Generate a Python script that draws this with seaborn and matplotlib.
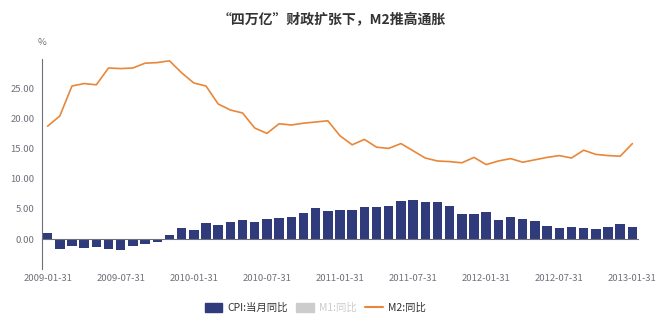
import matplotlib
matplotlib.use("Agg")
import matplotlib.pyplot as plt
import seaborn as sns
import pandas as pd
from matplotlib.patches import Patch
from matplotlib.lines import Line2D

# Monthly observations, Jan 2009 - Jan 2013
months = pd.date_range("2009-01-31", periods=49, freq="ME").strftime("%Y-%m-%d").tolist()

cpi_yoy = [
    1.0, -1.6, -1.2, -1.5, -1.4, -1.7, -1.8, -1.2, -0.8, -0.5, 0.6, 1.9,
    1.5, 2.7, 2.4, 2.8, 3.1, 2.9, 3.3, 3.5, 3.6, 4.4, 5.1, 4.6,
    4.9, 4.9, 5.4, 5.3, 5.5, 6.4, 6.5, 6.2, 6.1, 5.5, 4.2, 4.1,
    4.5, 3.2, 3.6, 3.4, 3.0, 2.2, 1.8, 2.0, 1.9, 1.7, 2.0, 2.5,
    2.0,
]
m2_yoy = [
    18.8, 20.5, 25.5, 25.9, 25.7, 28.5, 28.4, 28.5, 29.3, 29.4, 29.7, 27.7,
    26.0, 25.5, 22.5, 21.5, 21.0, 18.5, 17.6, 19.2, 19.0, 19.3, 19.5, 19.7,
    17.2, 15.7, 16.6, 15.3, 15.1, 15.9, 14.7, 13.5, 13.0, 12.9, 12.7, 13.6,
    12.4, 13.0, 13.4, 12.8, 13.2, 13.6, 13.9, 13.5, 14.8, 14.1, 13.9, 13.8,
    15.9,
]
y_ticks = [0, 5, 10, 15, 20, 25]
x_label_step = 6

title = "“四万亿”财政扩张下，M2推高通胀"
legend_labels = ["CPI:当月同比", "M1:同比", "M2:同比"]

BAR = "#2f3b7b"
LINE = "#e8873a"
MUTED = "#cccccc"
AXIS = "#6e7079"

sns.set_theme(style="white")
plt.rcParams["font.family"] = ["Noto Sans CJK SC", "DejaVu Sans"]
plt.rcParams["axes.unicode_minus"] = False

df = pd.DataFrame({"idx": range(len(months)), "month": months,
                   "cpi": cpi_yoy, "m2": m2_yoy})

fig = plt.figure(figsize=(6.6, 3.25), dpi=100)
ax = fig.add_axes([0.0629, 0.1723, 0.9045, 0.6462])

sns.barplot(data=df, x="idx", y="cpi", native_scale=True, color=BAR,
            saturation=1, width=0.78, linewidth=0, ax=ax)
sns.lineplot(data=df, x="idx", y="m2", color=LINE, linewidth=1.2, ax=ax)

ax.set_xlim(-0.5, len(months) - 0.5)
ax.set_ylim(-5, 30)
ax.set_xlabel("")
ax.set_ylabel("")

tick_pos = list(range(0, len(months), x_label_step))
ax.set_xticks(tick_pos)
ax.set_xticklabels([months[i] for i in tick_pos])
ax.set_yticks(y_ticks)
ax.set_yticklabels([f"{v:.2f}" for v in y_ticks])

for side in ("top", "right"):
    ax.spines[side].set_visible(False)
ax.spines["bottom"].set_position(("data", 0))
for side in ("left", "bottom"):
    ax.spines[side].set_color(AXIS)
    ax.spines[side].set_linewidth(0.8)

ax.tick_params(axis="x", length=3, width=0.8, color=AXIS, labelcolor=AXIS,
               labelsize=6.8, pad=22, direction="out")
ax.tick_params(axis="y", length=3, width=0.8, color=AXIS, labelcolor=AXIS,
               labelsize=6.8, pad=2, direction="out")
ax.grid(False)

fig.text(0.0629, 0.870, "%", fontsize=6.8, color=AXIS, ha="center", va="center")
fig.text(0.502, 0.937, title, fontsize=10, fontweight="bold", color="#333333",
         ha="center", va="center")

handles = [
    Patch(facecolor=BAR, edgecolor=BAR),
    Patch(facecolor=MUTED, edgecolor=MUTED),
    Line2D([0], [0], color=LINE, linewidth=1.5),
]
leg = fig.legend(handles, legend_labels, loc="center", ncol=3,
                 bbox_to_anchor=(0.478, 0.052), frameon=False, fontsize=7.5,
                 handlelength=1.7, handleheight=0.9, handletextpad=0.5,
                 columnspacing=0.8)
for text, col in zip(leg.get_texts(), ["#333333", MUTED, "#333333"]):
    text.set_color(col)

fig.savefig("out.png", dpi=100)
